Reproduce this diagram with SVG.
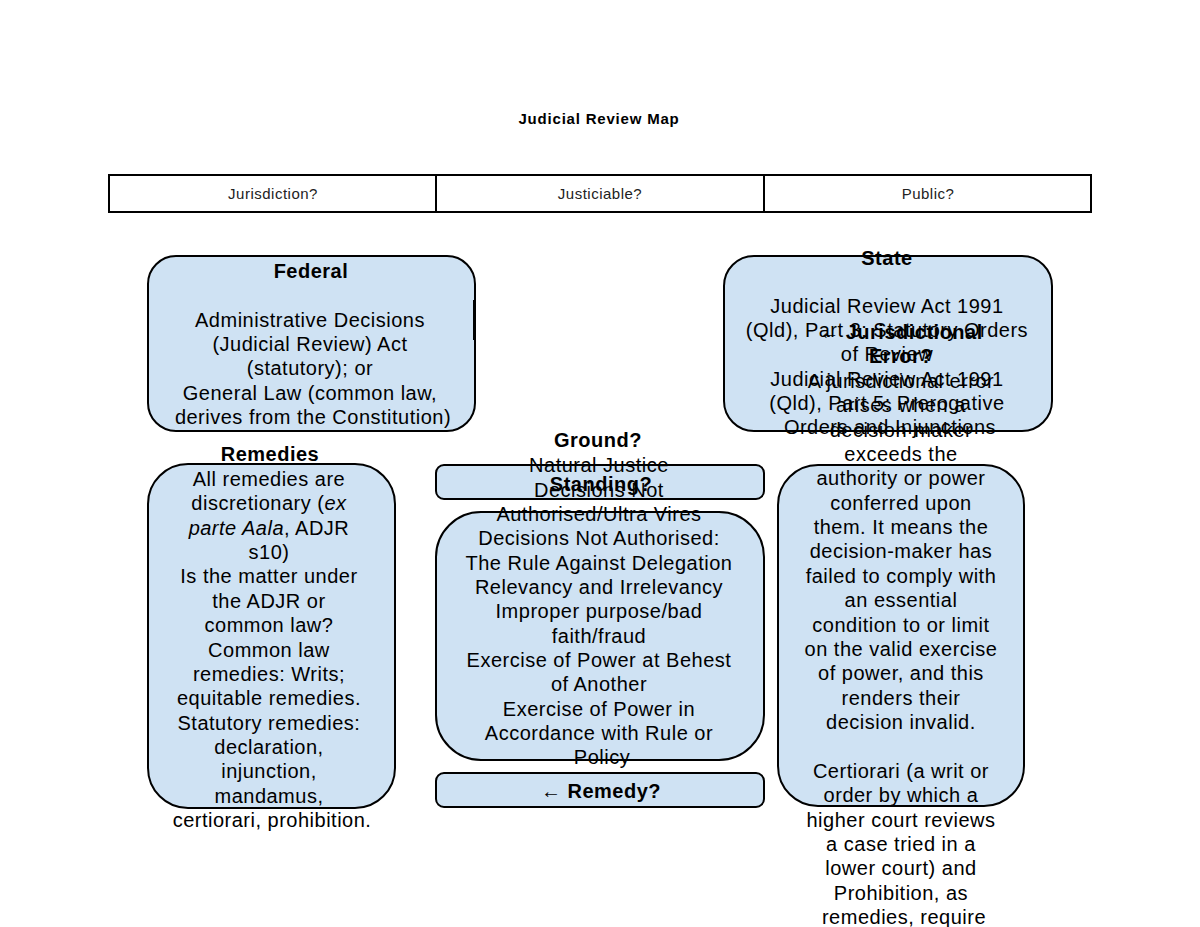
<svg xmlns="http://www.w3.org/2000/svg" width="1200" height="927" viewBox="0 0 1200 927">
<style>
.bg{fill:#ffffff}
.box{fill:#cfe2f3;stroke:#000;stroke-width:2}
.cell{fill:#ffffff;stroke:#000;stroke-width:2}
.t{font-family:"Liberation Sans",Arial,sans-serif;font-size:20px;letter-spacing:0.5px;fill:#000;text-anchor:middle}
.b{font-weight:bold}
.i{font-style:italic}
.hd{font-family:"Liberation Sans",Arial,sans-serif;font-size:15px;letter-spacing:0.5px;fill:#222;text-anchor:middle}
.title{font-family:"Liberation Sans",Arial,sans-serif;font-size:15px;font-weight:bold;letter-spacing:0.8px;fill:#000;text-anchor:middle}
</style>
<rect class="bg" x="0" y="0" width="1200" height="927"/>
<text class="title" x="599" y="124">Judicial Review Map</text>

<g id="table">
<rect class="cell" x="109" y="175" width="327" height="37"/>
<rect class="cell" x="436" y="175" width="328" height="37"/>
<rect class="cell" x="764" y="175" width="327" height="37"/>
<text class="hd" x="273" y="199">Jurisdiction?</text>
<text class="hd" x="600" y="199">Justiciable?</text>
<text class="hd" x="928" y="199">Public?</text>
</g>

<g id="connectors"></g>

<g id="federal">
<rect class="box" x="148" y="256" width="327" height="175" rx="28"/>
<line x1="474.5" y1="300" x2="474.5" y2="340" stroke="#000" stroke-width="3"/>
<text class="t" x="313">
<tspan class="b" x="314" y="278">Federal</tspan>
<tspan x="313" y="326.6">Administrative Decisions</tspan>
<tspan x="313" dy="24.3">(Judicial Review) Act</tspan>
<tspan x="313" dy="24.3">(statutory); or</tspan>
<tspan x="313" dy="24.3">General Law (common law,</tspan>
<tspan x="313" dy="24.3">derives from the Constitution)</tspan>
</text>
</g>

<g id="state">
<rect class="box" x="724" y="256" width="328" height="175" rx="30"/>
<text class="t" x="890">
<tspan class="b" x="890" y="265">State</tspan>
<tspan x="890" y="312.6">Judicial Review Act 1991</tspan>
<tspan x="890" dy="24.3">(Qld), Part 3: Statutory Orders</tspan>
<tspan x="890" dy="24.3">of Review</tspan>
<tspan x="890" dy="24.3">Judicial Review Act 1991</tspan>
<tspan x="890" dy="24.3">(Qld), Part 5: Prerogative</tspan>
<tspan x="890" dy="24.3">Orders and Injunctions</tspan>
</text>
</g>

<g id="remedies">
<rect class="box" x="148" y="464" width="247" height="344" rx="40"/>
<text class="t" x="272">
<tspan class="b" x="273" y="461">Remedies</tspan>
<tspan x="272" y="486">All remedies are</tspan>
<tspan x="272" dy="24.36">discretionary (<tspan class="i">ex</tspan></tspan>
<tspan x="272" dy="24.36"><tspan class="i">parte Aala</tspan>, ADJR</tspan>
<tspan x="272" dy="24.36">s10)</tspan>
<tspan x="272" dy="24.36">Is the matter under</tspan>
<tspan x="272" dy="24.36">the ADJR or</tspan>
<tspan x="272" dy="24.36">common law?</tspan>
<tspan x="272" dy="24.36">Common law</tspan>
<tspan x="272" dy="24.36">remedies: Writs;</tspan>
<tspan x="272" dy="24.36">equitable remedies.</tspan>
<tspan x="272" dy="24.36">Statutory remedies:</tspan>
<tspan x="272" dy="24.36">declaration,</tspan>
<tspan x="272" dy="24.36">injunction,</tspan>
<tspan x="272" dy="24.36">mandamus,</tspan>
<tspan x="272" dy="24.36">certiorari, prohibition.</tspan>
</text>
</g>

<g id="standing">
<rect class="box" x="436" y="465" width="328" height="34" rx="8"/>
<text class="t b" x="601" y="491">Standing?</text>
</g>

<g id="ground">
<rect class="box" x="436" y="512" width="328" height="248" rx="45"/>
<text class="t" x="602">
<tspan class="b" x="601" y="447">Ground?</tspan>
<tspan x="602" y="472.3">Natural Justice</tspan>
<tspan x="602" dy="24.33">Decisions Not</tspan>
<tspan x="602" dy="24.33">Authorised/Ultra Vires</tspan>
<tspan x="602" dy="24.33">Decisions Not Authorised:</tspan>
<tspan x="602" dy="24.33">The Rule Against Delegation</tspan>
<tspan x="602" dy="24.33">Relevancy and Irrelevancy</tspan>
<tspan x="602" dy="24.33">Improper purpose/bad</tspan>
<tspan x="602" dy="24.33">faith/fraud</tspan>
<tspan x="602" dy="24.33">Exercise of Power at Behest</tspan>
<tspan x="602" dy="24.33">of Another</tspan>
<tspan x="602" dy="24.33">Exercise of Power in</tspan>
<tspan x="602" dy="24.33">Accordance with Rule or</tspan>
<tspan x="602" dy="24.33">Policy</tspan>
</text>
</g>

<g id="remedy">
<rect class="box" x="436" y="773" width="328" height="34" rx="8"/>
<text class="t b" x="601" y="798">← Remedy?</text>
</g>

<g id="jurisdictional-error">
<rect class="box" x="778" y="465" width="246" height="341" rx="40"/>
<text class="t" x="904">
<tspan class="b" x="904" y="339">← Jurisdictional</tspan>
<tspan class="b" x="904" dy="24.375">Error?</tspan>
<tspan x="904" dy="24.375">A jurisdictional error</tspan>
<tspan x="904" dy="24.375">arises when a</tspan>
<tspan x="904" dy="24.375">decision-maker</tspan>
<tspan x="904" dy="24.375">exceeds the</tspan>
<tspan x="904" dy="24.375">authority or power</tspan>
<tspan x="904" dy="24.375">conferred upon</tspan>
<tspan x="904" dy="24.375">them. It means the</tspan>
<tspan x="904" dy="24.375">decision-maker has</tspan>
<tspan x="904" dy="24.375">failed to comply with</tspan>
<tspan x="904" dy="24.375">an essential</tspan>
<tspan x="904" dy="24.375">condition to or limit</tspan>
<tspan x="904" dy="24.375">on the valid exercise</tspan>
<tspan x="904" dy="24.375">of power, and this</tspan>
<tspan x="904" dy="24.375">renders their</tspan>
<tspan x="904" dy="24.375">decision invalid.</tspan>
<tspan x="904" dy="48.75">Certiorari (a writ or</tspan>
<tspan x="904" dy="24.375">order by which a</tspan>
<tspan x="904" dy="24.375">higher court reviews</tspan>
<tspan x="904" dy="24.375">a case tried in a</tspan>
<tspan x="904" dy="24.375">lower court) and</tspan>
<tspan x="904" dy="24.375">Prohibition, as</tspan>
<tspan x="904" dy="24.375">remedies, require</tspan>
</text>
</g>
</svg>
